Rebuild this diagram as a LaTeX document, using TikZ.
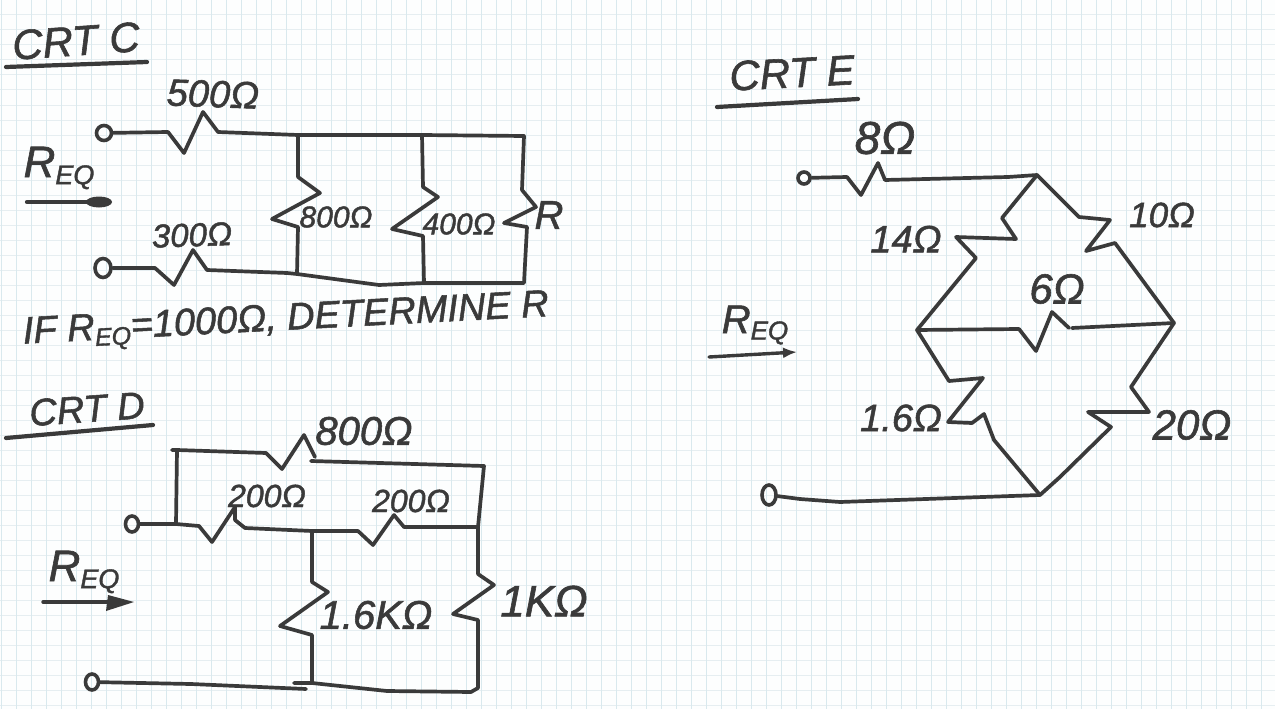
\documentclass[tikz,border=0pt]{standalone}
\usepackage{fontspec}
\setmainfont{Liberation Sans}[ItalicFeatures={FakeBold=1.4}]
\usetikzlibrary{shapes.geometric,arrows.meta}
\definecolor{ink}{HTML}{3A3A3A}
\definecolor{paper}{HTML}{FDFEFE}
\definecolor{gridv}{HTML}{D9E9EE}
\definecolor{gridh}{HTML}{E6EEF1}
\newcommand{\Req}[2]{R\raisebox{-0.16em}{\fontsize{#2}{#2}\selectfont EQ}}
\tikzset{
  wire/.style={draw=ink,line width=3.7pt,line cap=round,line join=round},
  bar/.style={draw=ink,line width=4.2pt,line cap=round},
  terminal/.style={ellipse,draw=ink,line width=3.6pt,minimum width=15pt,minimum height=15pt,inner sep=0pt,fill=none},
  hand/.style={text=ink,inner sep=0pt,font=\fontsize{#1}{#1}\selectfont\itshape},
}
\begin{document}
\begin{tikzpicture}[x=1pt,y=-1pt]
\useasboundingbox (0,0) rectangle (1275,709);
\fill[paper] (0,0) rectangle (1275,709);
\foreach \y in {15,30,...,705} \draw[gridh,line width=1pt] (0,\y) -- (1275,\y);
\foreach \x in {1.7,16.7,...,1275} \draw[gridv,line width=1pt] (\x,0) -- (\x,709);

% ---------- CRT C ----------
\node[hand=42,rotate=4] (tc) at (76,41) {CRT C};
\coordinate (ulc1) at (6,67); \coordinate (ulc2) at (147,62);
\draw[bar] (ulc1) -- (ulc2);
\node[terminal] (c1) at (104,133) {};
\node[terminal,minimum width=16pt,minimum height=19pt] (c2) at (103,268) {};
\coordinate (ca) at (298,135); \coordinate (cb) at (422,135); \coordinate (cc) at (524,136);
\coordinate (cd) at (297,274); \coordinate (ce) at (424,283); \coordinate (cf) at (524,283);
\draw[wire] (c1) -- (168,132) -- (184,153) -- (203,112) -- (218,132) -- (ca) -- (cb) -- (cc)
  -- (522,190) -- (536,207) -- (504,223) -- (527,227) -- (cf) -- (ce) -- (379,285) -- (cd);
\draw[wire] (c2) -- (155,268) -- (174,285) -- (193,250) -- (207,270) -- (287,273) -- (cd);
\draw[wire] (ca) -- (298,177) -- (320,193) -- (272,219) -- (298,227) -- (cd);
\draw[wire] (cb) -- (423,187) -- (438,197) -- (392,229) -- (423,236) -- (ce);
\node[hand=38,rotate=-2] (l500) at (213,94) {500Ω};
\node[hand=33,rotate=2] (l300) at (192,235) {300Ω};
\node[hand=30] (l800) at (336,217) {800Ω};
\node[hand=30] (l400) at (459,224) {400Ω};
\node[hand=40] (lr) at (549,215) {R};
\node[hand=44] (rc) at (59,168) {\Req{}{27}};
\coordinate (ac1) at (27,202); \coordinate (ac2) at (90,202);
\draw[bar] (ac1) -- (ac2);
\fill[ink] (99,202) ellipse (13pt and 5.5pt);
\node[hand=38,rotate=3] (cond) at (286,322) {IF \Req{}{25}=1000Ω, DETERMINE R};

% ---------- CRT D ----------
\node[hand=38,rotate=4] (td) at (87,409) {CRT D};
\coordinate (uld1) at (6,438); \coordinate (uld2) at (153,425);
\draw[bar] (uld1) -- (uld2);
\node[terminal,minimum width=13pt,minimum height=16pt] (d1) at (132,524) {};
\node[terminal,minimum width=13pt,minimum height=16pt] (d2) at (92,682) {};
\coordinate (da) at (176,524); \coordinate (db) at (312,531); \coordinate (dc) at (478,527);
\coordinate (dd) at (312,683); \coordinate (de) at (172,450);
\draw[wire] (d1) -- (da) -- (199,526) -- (212,542) -- (235,507) -- (235,520) -- (245,528) -- (db)
  -- (358,531) -- (373,545) -- (394,515) -- (404,527) -- (dc)
  -- (478,574) -- (494,585) -- (453,614) -- (478,620) -- (478,688) -- (471,692) -- (387,691) -- (dd) -- (294,683);
\draw[wire] (d2) -- (191,684) -- (306,689);
\draw[wire] (da) -- (177,450) -- (de) (177,450) -- (266,453) -- (282,469) -- (304,435) -- (315,457);
\draw[wire] (311,461) -- (484,466) -- (dc);
\draw[wire] (db) -- (312,582) -- (328,592) -- (280,626) -- (312,635) -- (dd);
\node[hand=40] (l800d) at (364,431) {800Ω};
\node[hand=32] (l200a) at (267,496) {200Ω};
\node[hand=32] (l200b) at (411,501) {200Ω};
\node[hand=40] (l16k) at (376,615) {1.6KΩ};
\node[hand=44] (l1k) at (544,601) {1KΩ};
\node[hand=44] (rd) at (84,572) {\Req{}{27}};
\coordinate (ad1) at (43,602); \coordinate (ad2) at (110,602);
\draw[bar,line width=3.4pt] (ad1) -- (ad2);
\coordinate (ad3) at (134,602);
\fill[ink] (ad3) -- (108,595) -- (106,611) -- cycle;

% ---------- CRT E ----------
\node[hand=42,rotate=3] (te) at (792,73) {CRT E};
\coordinate (ule1) at (717,107); \coordinate (ule2) at (858,99);
\draw[bar] (ule1) -- (ule2);
\node[terminal,minimum width=12pt,minimum height=12pt] (e1) at (804,178) {};
\node[terminal,minimum width=14pt,minimum height=20pt] (e2) at (769,495) {};
\coordinate (ea) at (1037,175); \coordinate (eb) at (917,330); \coordinate (ec) at (1174,323);
\coordinate (ed) at (1040,495);
\draw[wire] (e1) -- (847,177) -- (861,195) -- (878,163) -- (885,180) -- (1008,177) -- (ea);
\draw[wire] (ea) -- (1002,218) -- (1016,239) -- (956,237) -- (976,258) -- (eb);
\draw[wire] (ea) -- (1079,217) -- (1110,220) -- (1086,251) -- (1115,243) -- (ec);
\draw[wire] (eb) -- (1019,329) -- (1036,351) -- (1052,312) -- (1069,328);
\draw[wire] (1072,328) -- (ec);
\draw[wire] (eb) -- (949,381) -- (983,378) -- (948,422) -- (972,423) -- (984,414) -- (994,440) -- (ed);
\draw[wire] (ec) -- (1131,387) -- (1149,412) -- (1088,412) -- (1111,427) -- (1060,477) -- (ed);
\draw[wire] (e2) -- (800,499) -- (840,502) -- (ed);
\node[hand=46] (l8) at (885,138) {8Ω};
\node[hand=38] (l14) at (906,239) {14Ω};
\node[hand=35] (l10) at (1162,215) {10Ω};
\node[hand=42] (l6) at (1057,289) {6Ω};
\node[hand=38] (l16) at (901,418) {1.6Ω};
\node[hand=42] (l20) at (1192,425) {20Ω};
\node[hand=40] (re) at (755,325) {\Req{}{26}};
\coordinate (ae1) at (709,357); \coordinate (ae2) at (797,352);
\draw[bar,line width=3.4pt,-{Latex[length=14pt,width=11pt]}] (ae1) -- (ae2);
\end{tikzpicture}
\end{document}
